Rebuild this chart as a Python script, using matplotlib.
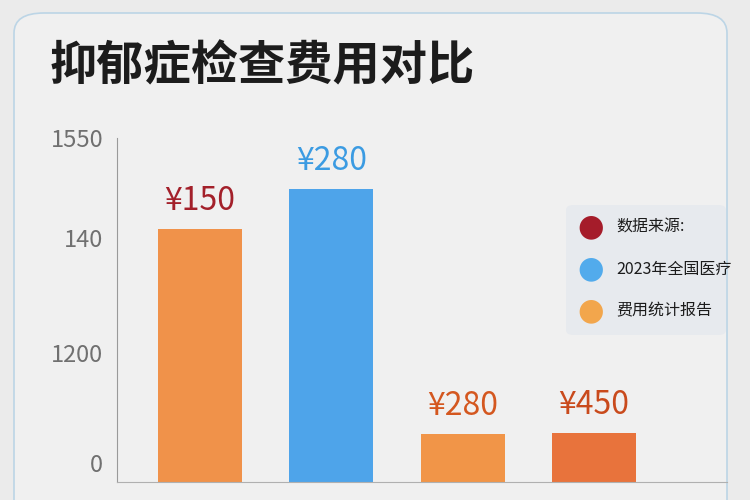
import matplotlib.pyplot as plt
from matplotlib.patches import FancyBboxPatch

plt.rcParams['font.family'] = ['Noto Sans CJK SC', 'DejaVu Sans']

# 数据
bar_heights = [1140, 1320, 215, 220]
bar_labels = ['¥150', '¥280', '¥280', '¥450']
bar_colors = ['#f0924a', '#4ea4ea', '#f19548', '#e8733c']
label_colors = ['#a3202a', '#3b9be2', '#d4571f', '#c94a1c']
tick_pos = [85, 580, 1100, 1550]
tick_labels = ['0', '1200', '140', '1550']
legend_items = ['数据来源:', '2023年全国医疗', '费用统计报告']
legend_colors = ['#a51c2a', '#52abec', '#f2a64c']

fig = plt.figure(figsize=(7.5, 5), dpi=100)
fig.patch.set_facecolor('#ebebeb')

# 背景卡片
card = FancyBboxPatch((14 / 750, -0.05), 713 / 750, 1 - 13 / 500 + 0.05,
                      boxstyle='round,pad=0,rounding_size=0.04',
                      transform=fig.transFigure, facecolor='#f0f0f0',
                      edgecolor='#bcd5e6', linewidth=1.2, zorder=-2)
fig.patches.append(card)

fig.text(50 / 750, 1 - 66 / 500, '抑郁症检查费用对比', fontsize=34,
         fontweight='heavy', color='#1c1c1c', va='center', ha='left')

ax = fig.add_axes([117 / 750, 18 / 500, 610 / 750, (482 - 138) / 500])
ax.set_zorder(1)
ax.set_facecolor('none')
x = range(len(bar_heights))
bars = ax.bar(x, bar_heights, width=0.64, color=bar_colors, zorder=2)
for i, b in enumerate(bars):
    ax.text(b.get_x() + b.get_width() / 2, bar_heights[i] + 55, bar_labels[i],
            ha='center', va='bottom', fontsize=23, color=label_colors[i])

ax.set_xlim(-0.632, 4.013)
ax.set_ylim(0, 1540)
ax.set_xticks([])
ax.set_yticks(tick_pos)
ax.set_yticklabels(tick_labels, fontsize=17, color='#707070', fontweight='light')
ax.tick_params(axis='y', length=0, pad=10)
for s in ['top', 'right']:
    ax.spines[s].set_visible(False)
ax.spines['left'].set_color('#9a9a9a')
ax.spines['bottom'].set_color('#b0b0b0')

# 图例
leg_bg = FancyBboxPatch((566 / 750, 1 - 335 / 500), 160 / 750, 130 / 500,
                        boxstyle='round,pad=0,rounding_size=0.01',
                        transform=fig.transFigure, facecolor='#e7eaee',
                        edgecolor='none', zorder=-1)
fig.patches.append(leg_bg)
for i, (t, c) in enumerate(zip(legend_items, legend_colors)):
    yy = 1 - (227 + i * 42) / 500
    fig.text(591 / 750, yy, '●', fontsize=22, color=c, ha='center',
             va='center', family='DejaVu Sans', zorder=3)
    fig.text(616 / 750, yy, t, fontsize=11.5, color='#1c1c1c', ha='left',
             va='center', zorder=3)

fig.savefig('out.png', dpi=100, facecolor=fig.get_facecolor())
